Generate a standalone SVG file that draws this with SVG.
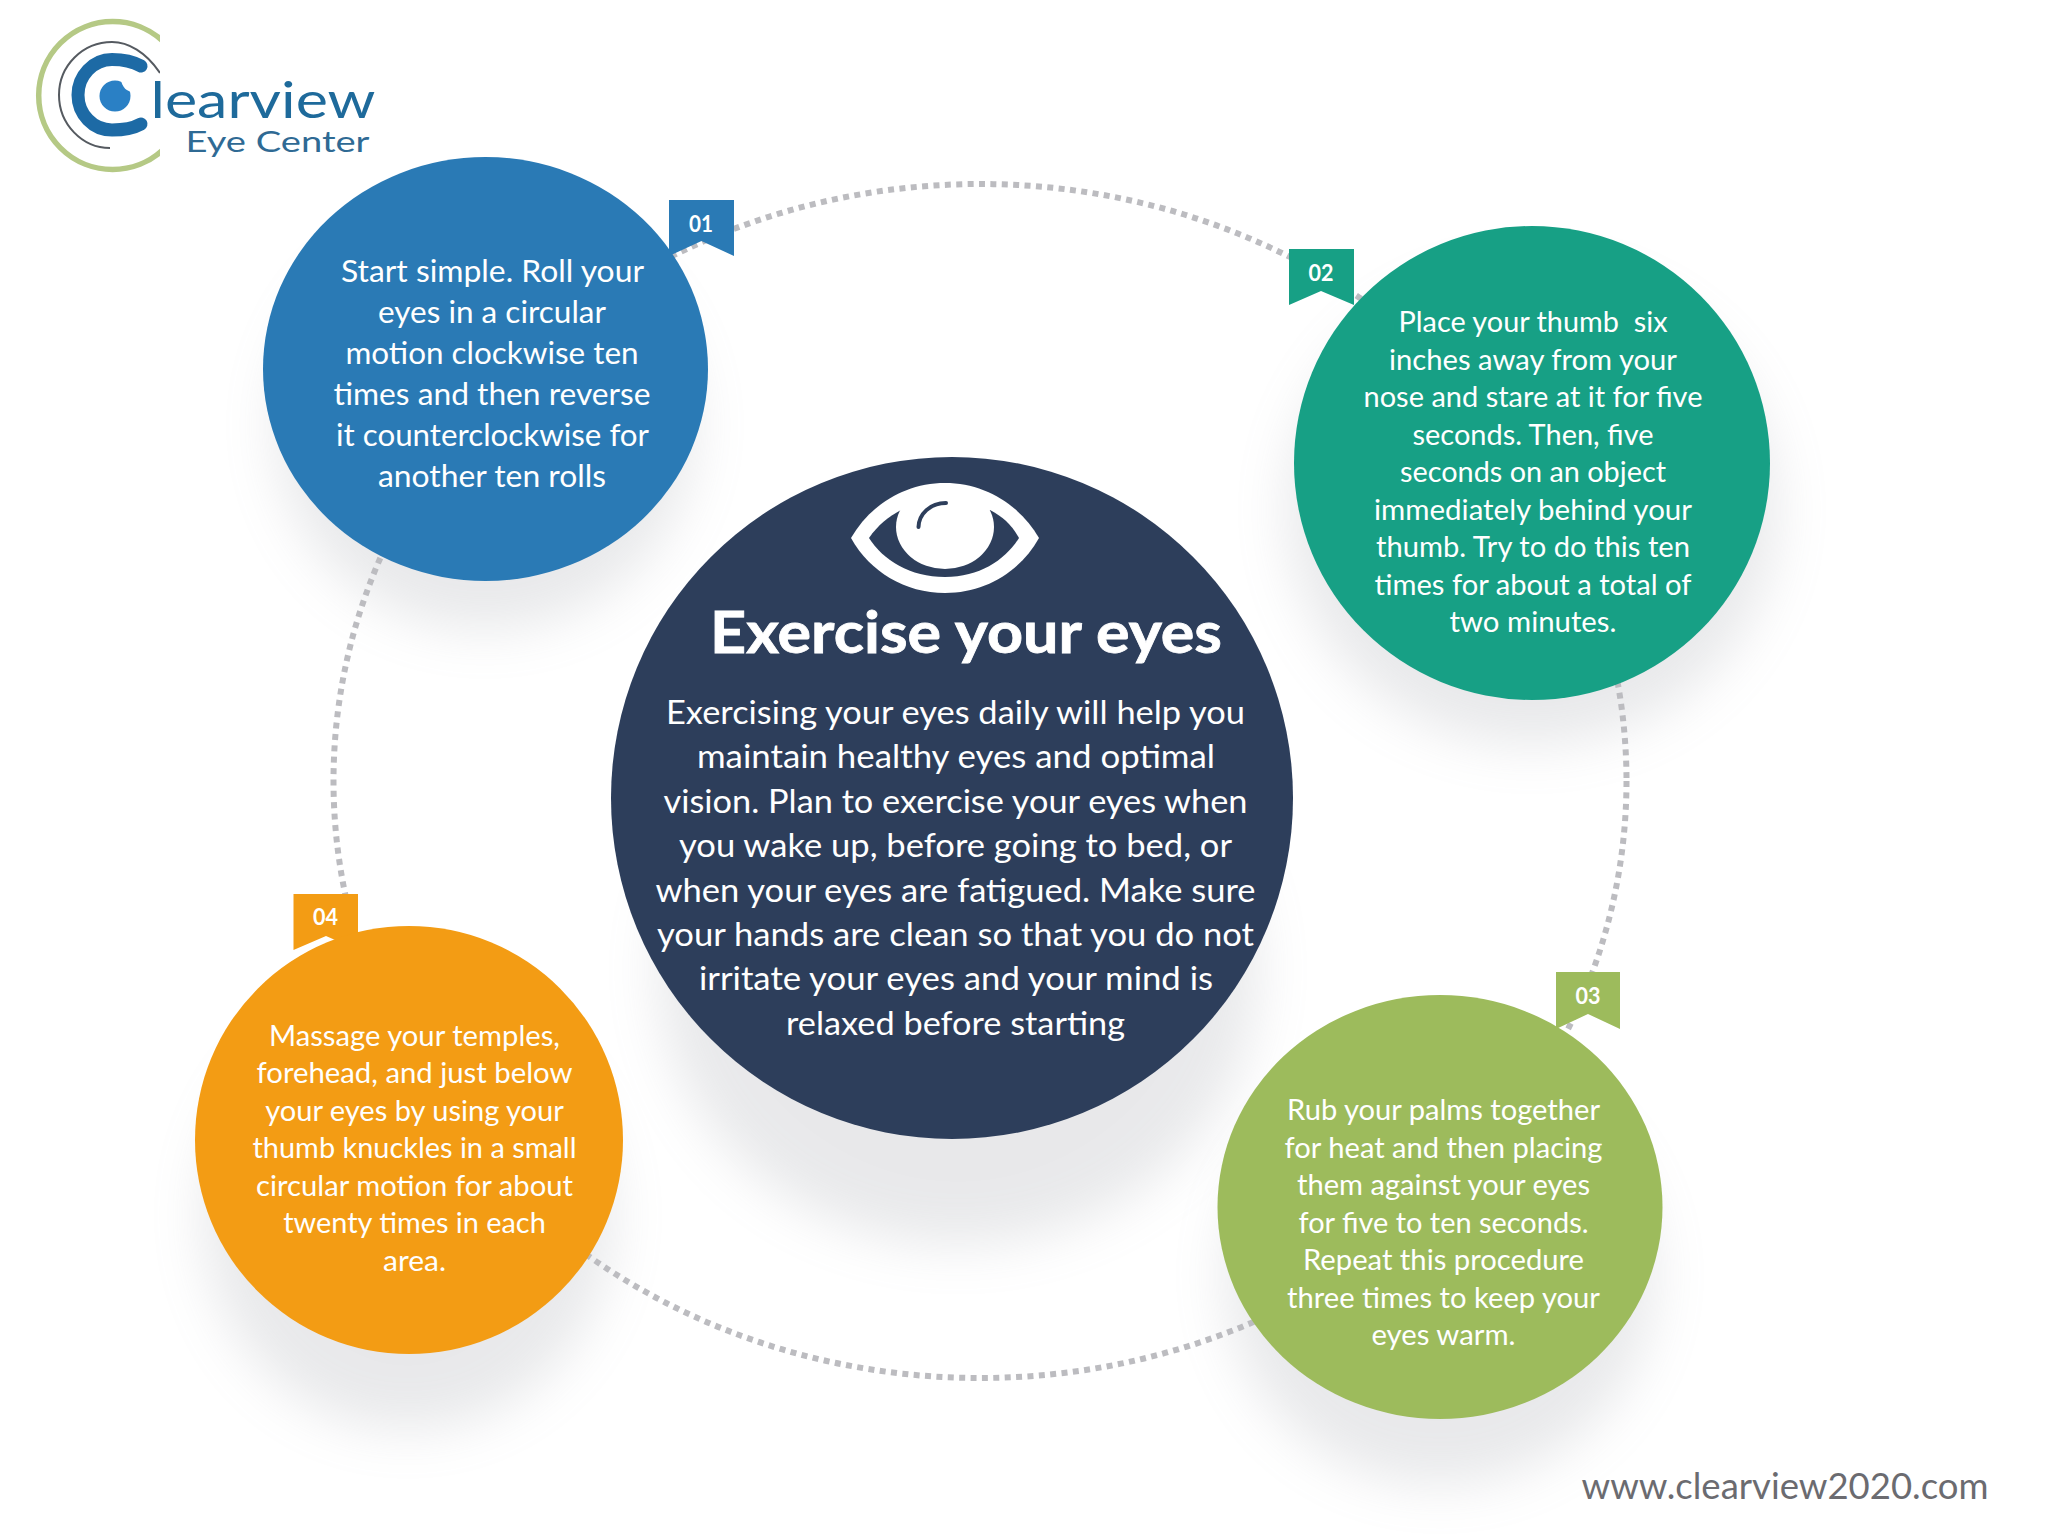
<svg xmlns="http://www.w3.org/2000/svg" width="2048" height="1536" viewBox="0 0 2048 1536">
<style>
text{font-family:"Lato","Liberation Sans",sans-serif;fill:#fff;text-anchor:middle}
.b{font-size:30.5px}
.s{font-size:28px}
.c{font-size:33px}
.t{font-size:58px;font-weight:700;stroke:#fff;stroke-width:.8px}
.n{font-size:23px;font-weight:700}
.shadow{fill:#9a9ca4;opacity:.22;filter:url(#blur)}
.ring{fill:none;stroke:#bcbcc0;stroke-width:6;stroke-dasharray:6 5.4}
</style>
<defs>
<filter id="blur" x="-30%" y="-30%" width="160%" height="160%"><feGaussianBlur stdDeviation="26"/></filter>
<clipPath id="logoClip"><rect x="0" y="0" width="160" height="190"/></clipPath>
</defs>
<rect width="2048" height="1536" fill="#fff"/>
<g id="shadows">
<ellipse class="shadow" cx="485" cy="425" rx="210" ry="205"/>
<ellipse class="shadow" cx="1532" cy="510" rx="245" ry="235"/>
<ellipse class="shadow" cx="1440" cy="1275" rx="215" ry="210"/>
<ellipse class="shadow" cx="408" cy="1215" rx="205" ry="215"/>
<ellipse class="shadow" cx="958" cy="970" rx="300" ry="275"/>
</g>
<g id="connectors">
<ellipse class="ring" cx="980" cy="781" rx="646.5" ry="597"/>
</g>
<g id="logo">
<g clip-path="url(#logoClip)">
<circle cx="112.7" cy="95.5" r="74" fill="none" stroke="#b5c985" stroke-width="5.5"/>
<path d="M160,73 C146,52 128,42 112,42 A53,53 0 0 0 59,95 C59,124 82,148 110,148" fill="none" stroke="#555a60" stroke-width="2"/>
</g>
<path d="M141,66 C132,61 121,59.5 112,59.5 C93,59.5 78,76 78,95 C78,114 93,130 112,130 C121,130 132,129 141,124" fill="none" stroke="#1d6aa5" stroke-width="13" stroke-linecap="round"/>
<circle cx="115" cy="96" r="15.5" fill="#2a80c5"/>
<path d="M121,80 L134,78 L133,92 C127,92 122,87 121,80 Z" fill="#fff"/>
<text x="263" y="118" style="font-size:50px;fill:#1e6a9b" textLength="225" lengthAdjust="spacingAndGlyphs">learview</text>
<text x="277.5" y="152" style="font-size:29px;fill:#2f6a94" textLength="184" lengthAdjust="spacingAndGlyphs">Eye Center</text>
</g>
<g id="node-01">
<path d="M669,200 H734 V256 L701.5,241 L669,256 Z" fill="#2a7ab5"/>
<text class="n" x="701" y="231.5" textLength="24" lengthAdjust="spacingAndGlyphs">01</text>
<ellipse cx="485.5" cy="369" rx="222.5" ry="212" fill="#2a7ab5"/>
<g class="b" transform="translate(0,1)">
<text x="492.5" y="281" textLength="303" lengthAdjust="spacingAndGlyphs">Start simple. Roll your</text>
<text x="492" y="322" textLength="228" lengthAdjust="spacingAndGlyphs">eyes in a circular</text>
<text x="492" y="363" textLength="293" lengthAdjust="spacingAndGlyphs">motion clockwise ten</text>
<text x="492" y="404" textLength="317" lengthAdjust="spacingAndGlyphs">times and then reverse</text>
<text x="492.5" y="445" textLength="313" lengthAdjust="spacingAndGlyphs">it counterclockwise for</text>
<text x="492" y="486" textLength="228" lengthAdjust="spacingAndGlyphs">another ten rolls</text>
</g>
</g>
<g id="node-02">
<path d="M1289,249 H1354 V305 L1321,291 L1289,305 Z" fill="#17a085"/>
<text class="n" x="1321" y="280.5" textLength="25" lengthAdjust="spacingAndGlyphs">02</text>
<ellipse cx="1532" cy="463" rx="238" ry="237" fill="#17a085"/>
<g class="s" transform="translate(0,1)">
<text x="1533" y="331" xml:space="preserve" textLength="269" lengthAdjust="spacingAndGlyphs">Place your thumb  six</text>
<text x="1533" y="368.5" textLength="288" lengthAdjust="spacingAndGlyphs">inches away from your</text>
<text x="1533" y="406" textLength="339" lengthAdjust="spacingAndGlyphs">nose and stare at it for five</text>
<text x="1533" y="443.5" textLength="241" lengthAdjust="spacingAndGlyphs">seconds. Then, five</text>
<text x="1533" y="481" textLength="266" lengthAdjust="spacingAndGlyphs">seconds on an object</text>
<text x="1533" y="518.5" textLength="318" lengthAdjust="spacingAndGlyphs">immediately behind your</text>
<text x="1533" y="556" textLength="314" lengthAdjust="spacingAndGlyphs">thumb. Try to do this ten</text>
<text x="1533" y="593.5" textLength="317" lengthAdjust="spacingAndGlyphs">times for about a total of</text>
<text x="1533" y="631" textLength="167" lengthAdjust="spacingAndGlyphs">two minutes.</text>
</g>
</g>
<g id="node-03">
<path d="M1556,972 H1620 V1029 L1588,1014 L1556,1029 Z" fill="#9dbb5c"/>
<text class="n" x="1588" y="1004" textLength="25" lengthAdjust="spacingAndGlyphs">03</text>
<ellipse cx="1440" cy="1207" rx="222.5" ry="212" fill="#9dbb5c"/>
<g class="s" transform="translate(0,1)">
<text x="1443.5" y="1119" textLength="313" lengthAdjust="spacingAndGlyphs">Rub your palms together</text>
<text x="1443.5" y="1156.5" textLength="318" lengthAdjust="spacingAndGlyphs">for heat and then placing</text>
<text x="1443.5" y="1194" textLength="293" lengthAdjust="spacingAndGlyphs">them against your eyes</text>
<text x="1443.5" y="1231.5" textLength="290" lengthAdjust="spacingAndGlyphs">for five to ten seconds.</text>
<text x="1443.5" y="1269" textLength="281" lengthAdjust="spacingAndGlyphs">Repeat this procedure</text>
<text x="1443.5" y="1306.5" textLength="313" lengthAdjust="spacingAndGlyphs">three times to keep your</text>
<text x="1443.5" y="1344" textLength="144" lengthAdjust="spacingAndGlyphs">eyes warm.</text>
</g>
</g>
<g id="node-04">
<path d="M293.5,894 H358 V950 L326,936 L293.5,950 Z" fill="#f39c14"/>
<text class="n" x="325.5" y="925" textLength="25" lengthAdjust="spacingAndGlyphs">04</text>
<ellipse cx="409" cy="1140" rx="214" ry="214" fill="#f39c14"/>
<g class="s" transform="translate(0,1)">
<text x="414.5" y="1044.5" textLength="291" lengthAdjust="spacingAndGlyphs">Massage your temples,</text>
<text x="414.5" y="1082" textLength="316" lengthAdjust="spacingAndGlyphs">forehead, and just below</text>
<text x="414.5" y="1119.5" textLength="298.5" lengthAdjust="spacingAndGlyphs">your eyes by using your</text>
<text x="414.5" y="1157" textLength="324" lengthAdjust="spacingAndGlyphs">thumb knuckles in a small</text>
<text x="414.5" y="1194.5" textLength="317" lengthAdjust="spacingAndGlyphs">circular motion for about</text>
<text x="414.5" y="1232" textLength="262.5" lengthAdjust="spacingAndGlyphs">twenty times in each</text>
<text x="414.5" y="1269.5" textLength="63" lengthAdjust="spacingAndGlyphs">area.</text>
</g>
</g>
<g id="node-center">
<circle cx="952" cy="798" r="341" fill="#2d3e5b"/>
<path d="M851,538 C870,505 905,483 945,483 C985,483 1020,505 1039,538 C1020,572 985,593 945,593 C905,593 870,572 851,538 Z" fill="#fff"/>
<path d="M869,538 C878,525 888,517 901,510 L990,510 C1003,517 1012,525 1019,538 C1005,560 980,577 945,577 C910,577 883,560 869,538 Z" fill="#2d3e5b"/>
<ellipse cx="945" cy="527" rx="49" ry="42" fill="#fff"/>
<path d="M918.5,527 C919,514 930,503 946,503" fill="none" stroke="#2d3e5b" stroke-width="4" stroke-linecap="round"/>
<text class="t" x="966" y="653" textLength="512" lengthAdjust="spacingAndGlyphs">Exercise your eyes</text>
<g class="c" transform="translate(0,1)">
<text x="955.5" y="723" textLength="579" lengthAdjust="spacingAndGlyphs">Exercising your eyes daily will help you</text>
<text x="956" y="767" textLength="518" lengthAdjust="spacingAndGlyphs">maintain healthy eyes and optimal</text>
<text x="955.5" y="811.5" textLength="584" lengthAdjust="spacingAndGlyphs">vision. Plan to exercise your eyes when</text>
<text x="955.5" y="856" textLength="553" lengthAdjust="spacingAndGlyphs">you wake up, before going to bed, or</text>
<text x="955.5" y="900.5" textLength="600" lengthAdjust="spacingAndGlyphs">when your eyes are fatigued. Make sure</text>
<text x="955.5" y="945" textLength="597" lengthAdjust="spacingAndGlyphs">your hands are clean so that you do not</text>
<text x="956" y="989" textLength="514" lengthAdjust="spacingAndGlyphs">irritate your eyes and your mind is</text>
<text x="955.5" y="1034" textLength="339" lengthAdjust="spacingAndGlyphs">relaxed before starting</text>
</g>
</g>
<text id="website" x="1785" y="1498.5" style="font-size:36px;fill:#6b6b70" textLength="407" lengthAdjust="spacingAndGlyphs">www.clearview2020.com</text>
</svg>
